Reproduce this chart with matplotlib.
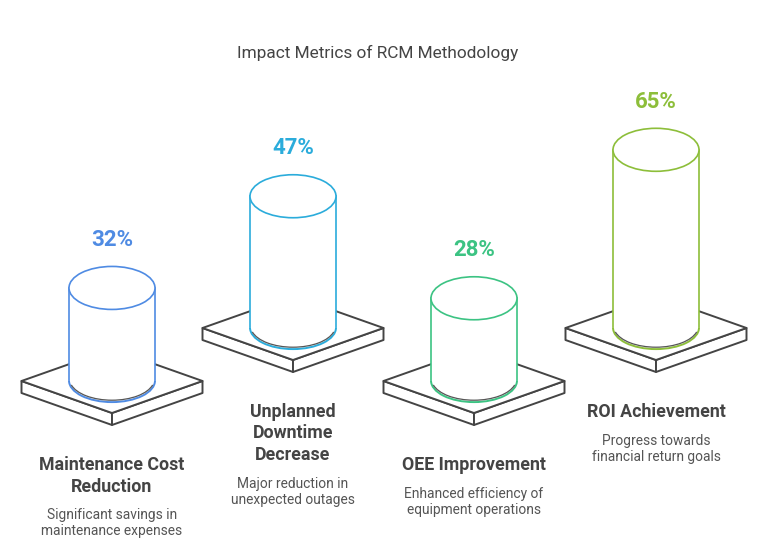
import numpy as np
import matplotlib.pyplot as plt
from matplotlib.patches import Polygon, Ellipse, Arc

plt.rcParams['font.family'] = ['Roboto', 'DejaVu Sans']

title = 'Impact Metrics of RCM Methodology'
metrics = ['Maintenance Cost\nReduction', 'Unplanned\nDowntime\nDecrease',
           'OEE Improvement', 'ROI Achievement']
values = [32, 47, 28, 65]
descriptions = ['Significant savings in\nmaintenance expenses',
                'Major reduction in\nunexpected outages',
                'Enhanced efficiency of\nequipment operations',
                'Progress towards\nfinancial return goals']
colors = ['#4F8BE3', '#2BACDB', '#3CC383', '#8DBE3A']

# layout (pixel space, y down)
W, H = 768, 549
centers_x = [112, 293, 474, 656]
bases_y = [381, 328, 381, 328]
label_y = [465, 412, 465, 412]
half_w, half_h, thick = 90.5, 32, 12
rx, ry = 43, 21.5
edge = '#444444'

fig = plt.figure(figsize=(W / 100, H / 100), dpi=100)
ax = fig.add_axes([0, 0, 1, 1])
ax.set_xlim(0, W)
ax.set_ylim(H, 0)
ax.axis('off')


def height_of(v):
    return 9.5 + 2.58 * v


def draw_platform(cx, by):
    top = [(cx - half_w, by), (cx, by - half_h), (cx + half_w, by), (cx, by + half_h)]
    left = [(cx - half_w, by), (cx, by + half_h), (cx, by + half_h + thick), (cx - half_w, by + thick)]
    right = [(cx + half_w, by), (cx, by + half_h), (cx, by + half_h + thick), (cx + half_w, by + thick)]
    for pts in (left, right, top):
        ax.add_patch(Polygon(pts, closed=True, facecolor='white', edgecolor=edge,
                             lw=1.4, joinstyle='round', zorder=2))


def draw_cylinder(cx, by, h, color):
    bc = by - 1
    tc = bc - h
    t = np.linspace(0, np.pi, 60)
    arc_x = cx + rx * np.cos(t)
    arc_y = bc + ry * np.sin(t)
    body = [(cx + rx, tc)] + list(zip(arc_x, arc_y)) + [(cx - rx, tc)]
    ax.add_patch(Polygon(body, closed=True, facecolor='white', edgecolor='none', zorder=3))
    ax.add_patch(Arc((cx, bc + 0.6), 2 * rx, 2 * ry, theta1=0, theta2=180,
                     color=color, lw=1.4, zorder=4))
    ax.add_patch(Arc((cx, bc - 0.8), 2 * rx - 1.5, 2 * ry - 1, theta1=8, theta2=172,
                     color='#555555', lw=0.9, zorder=4))
    ax.plot([cx - rx, cx - rx], [tc, bc], color=color, lw=1.2, zorder=4)
    ax.plot([cx + rx, cx + rx], [tc, bc], color=color, lw=1.2, zorder=4)
    ax.add_patch(Ellipse((cx, tc), 2 * rx, 2 * ry, facecolor='white',
                         edgecolor=color, lw=1.2, zorder=5))
    return tc


for i in range(len(values)):
    cx, by = centers_x[i], bases_y[i]
    draw_platform(cx, by)
    tc = draw_cylinder(cx, by, height_of(values[i]), colors[i])
    ax.text(cx, tc - 48, f'{values[i]}%', ha='center', va='center',
            fontsize=16, fontweight='bold', color=colors[i])

    lines = metrics[i].split('\n')
    y = label_y[i]
    for ln in lines:
        ax.text(cx, y, ln, ha='center', va='center', fontsize=12.8,
                fontweight='bold', color='#444444')
        y += 21.5
    y += 7.5
    for ln in descriptions[i].split('\n'):
        ax.text(cx, y, ln, ha='center', va='center', fontsize=9.9, color='#555555')
        y += 16

ax.text(378, 53, title, ha='center', va='center', fontsize=12.4, color='#444444')

fig.savefig('out.png', dpi=100, facecolor='white')
